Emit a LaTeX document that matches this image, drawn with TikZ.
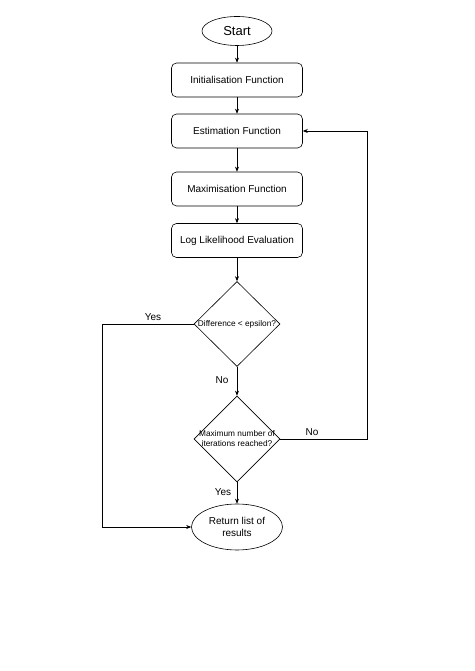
\documentclass[tikz,border=0pt]{standalone}
\usepackage{fontspec}
\setmainfont{Liberation Sans}
\usetikzlibrary{shapes.geometric,arrows.meta}
\begin{document}
\begin{tikzpicture}[x=1pt,y=1pt,
  procbox/.style={draw=drawColor,line width=0.6pt,rounded corners=5pt,minimum width=131pt,minimum height=34pt,inner sep=0pt,font=\fontsize{10}{12}\selectfont},
  termnode/.style={draw=drawColor,line width=0.6pt,ellipse,inner sep=0pt,align=center},
  decision/.style={draw=drawColor,line width=0.6pt,diamond,minimum width=86pt,minimum height=86pt,inner sep=-8pt,align=center,font=\fontsize{8.3}{10}\selectfont},
  flowline/.style={draw=drawColor,line width=0.6pt,-{Stealth[length=5pt,width=4pt]}},
  branchtext/.style={inner sep=0pt,font=\fontsize{10}{12}\selectfont}]
\definecolor{fillColor}{RGB}{255,255,255}
\definecolor{drawColor}{RGB}{0,0,0}
\path[use as bounding box,fill=fillColor] (0,0) rectangle (474,671);

\node[termnode,minimum width=70pt,minimum height=29pt,font=\fontsize{13}{15}\selectfont] (start) at (237,640) {Start};

\node[procbox] (init) at (237,591) {Initialisation Function};

\node[procbox] (estim) at (237,540) {Estimation Function};

\node[procbox] (maxim) at (237,482) {Maximisation Function};

\node[procbox] (loglik) at (237,430.5) {Log Likelihood Evaluation};

\node[decision,minimum height=85pt] (diff) at (237,347) {Difference \textless{} epsilon?};

\node[decision] (maxiter) at (237,232) {Maximum number of\\iterations reached?};

\node[termnode,minimum width=91pt,minimum height=46pt,font=\fontsize{10}{12}\selectfont] (result) at (237,144) {Return list of\\results};

\path[flowline] (start) -- (init);
\path[flowline] (init) -- (estim);
\path[flowline] (estim) -- (maxim);
\path[flowline] (maxim) -- (loglik);
\path[flowline] (loglik) -- (diff.north);
\path[flowline] (diff.south) -- (maxiter.north);
\path[flowline] (maxiter.south) -- (result.north);
\path[flowline] (diff.west) -- ++(-91,0) |- (result.west);
\path[flowline] (maxiter.east) -- ++(87,0) |- (estim.east);

\node[branchtext] (yesdiff) at (153,354) {Yes};
\node[branchtext] (nodiff) at (222,291) {No};
\node[branchtext] (nomax) at (312,239) {No};
\node[branchtext] (yesmax) at (223,179) {Yes};
\end{tikzpicture}
\end{document}
